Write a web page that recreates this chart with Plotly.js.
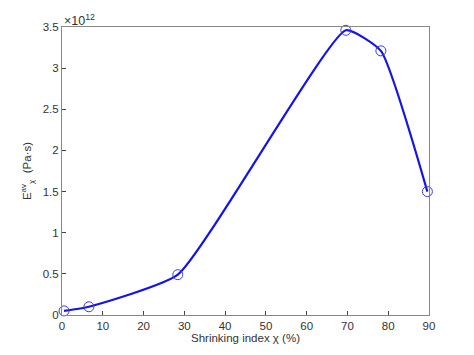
<!DOCTYPE html>
<html>
<head>
<meta charset="utf-8">
<script src="https://cdn.plot.ly/plotly-3.0.1.min.js"></script>
<style>html,body{margin:0;padding:0;background:#fff;}#chart{width:474px;height:355px;}</style>
</head>
<body>
<div id="chart"></div>
<script>
var shrinkIndex = [0.5, 6.6, 28.4, 69.6, 78.2, 89.6];
var energyAv = [0.05, 0.10, 0.49, 3.46, 3.21, 1.50]; // x 10^12
var xTicks = [0, 10, 20, 30, 40, 50, 60, 70, 80, 90];
var yTicks = [0, 0.5, 1, 1.5, 2, 2.5, 3, 3.5];
var yTickText = ['0', '0.5', '1', '1.5', '2', '2.5', '3', '3.5'];

var trace = {
  x: shrinkIndex,
  y: energyAv,
  mode: 'lines+markers',
  line: {color: '#1414e6', width: 2.2, shape: 'spline', smoothing: 0.45},
  marker: {symbol: 'circle-open', size: 10, color: '#3a3ae0', line: {width: 1, color: '#3a3ae0'}},
  cliponaxis: false,
  showlegend: false
};

var axisFont = {family: 'Liberation Sans, Arial, sans-serif', size: 11.5, color: '#333'};

var layout = {
  width: 474, height: 355,
  margin: {l: 62, r: 45, t: 27, b: 40},
  paper_bgcolor: '#fff', plot_bgcolor: '#fff',
  xaxis: {
    range: [0, 90], tickvals: xTicks, ticks: 'inside', ticklen: 4, tickcolor: '#444',
    showgrid: false, zeroline: false, showline: true, mirror: true, linecolor: '#888', linewidth: 1,
    tickfont: axisFont,
    title: {text: 'Shrinking index \u03c7 (%)', font: axisFont, standoff: 2}
  },
  yaxis: {
    range: [0, 3.5], tickvals: yTicks, ticktext: yTickText, ticks: 'inside', ticklen: 4, tickcolor: '#444',
    showgrid: false, zeroline: false, showline: true, mirror: true, linecolor: '#888', linewidth: 1,
    tickfont: axisFont,
    title: {text: 'E<sup>av</sup><sub>\u03c7</sub>  (Pa\u00b7s)', font: axisFont, standoff: 8}
  },
  annotations: [{
    xref: 'paper', yref: 'paper', x: 0, y: 1, xanchor: 'left', yanchor: 'bottom',
    text: '\u00d710<sup>12</sup>', showarrow: false, font: {family: 'Liberation Sans, Arial, sans-serif', size: 12.5, color: '#333'}, yshift: -3
  }]
};

Plotly.newPlot('chart', [trace], layout, {displayModeBar: false, staticPlot: true});
</script>
</body>
</html>
